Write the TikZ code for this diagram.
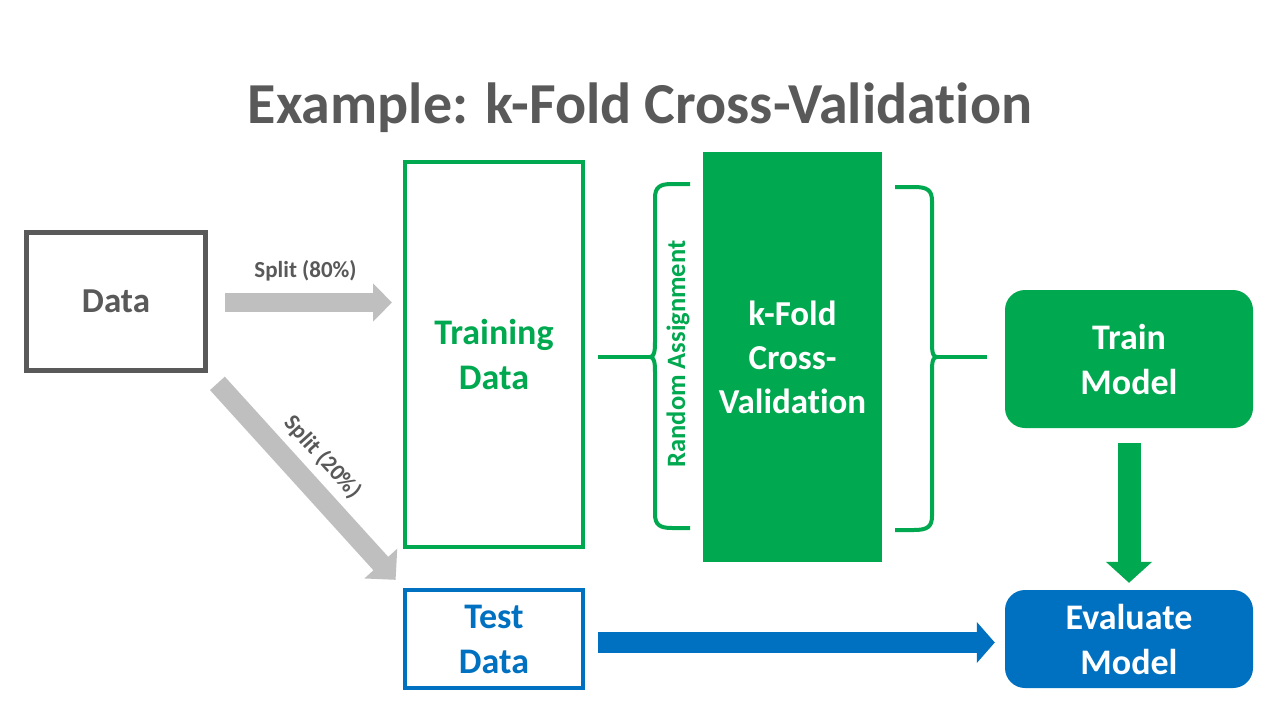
\documentclass[tikz,border=0pt]{standalone}
\usepackage{fontspec}
\setmainfont{Carlito}[Ligatures=NoCommon]
\usetikzlibrary{arrows.meta,calc}
\definecolor{tgray}{HTML}{595959}
\definecolor{agray}{HTML}{BFBFBF}
\definecolor{ggreen}{HTML}{00A84F}
\definecolor{bblue}{HTML}{0070C0}
\begin{document}
\begin{tikzpicture}[x=1pt,y=-1pt,
  box/.style={inner sep=0pt, align=center, font=\bfseries\fontsize{36}{45}\selectfont},
  lbl/.style={inner sep=0pt, text=tgray, font=\bfseries\fontsize{23}{27}\selectfont},
  gline/.style={ggreen, line width=4pt},
  brace/.style={ggreen, line width=4pt, line join=round}
]
\useasboundingbox[fill=white] (0,0) rectangle (1280,720);

\node[anchor=base, text=tgray, font=\bfseries\fontsize{58}{68}\selectfont] (title) at (640,123) {Example: k-Fold Cross-Validation};

\node[box, draw=tgray, line width=5pt, text=tgray, minimum width=179pt, minimum height=138pt, font=\bfseries\fontsize{35}{44}\selectfont] (data) at (116,301.5) {Data};
\node[box, draw=ggreen, line width=4pt, text=ggreen, minimum width=178pt, minimum height=385pt] (train) at (494,354.5) {Training\\Data};
\node[box, draw=bblue, line width=4pt, text=bblue, minimum width=178pt, minimum height=98pt] (test) at (494,639) {Test\\Data};
\node[box, fill=ggreen, text=white, minimum width=179pt, minimum height=410pt, font=\bfseries\fontsize{35}{44}\selectfont] (kfold) at (792.5,357) {k-Fold\\Cross-\\Validation};
\node[box, fill=ggreen, text=white, rounded corners=20pt, minimum width=248pt, minimum height=138pt] (trainm) at (1129,359) {Train\\Model};
\node[box, fill=bblue, text=white, rounded corners=20pt, minimum width=248pt, minimum height=98pt] (evalm) at (1129,639) {Evaluate\\Model};

\node[rotate=90, inner sep=0pt, text=ggreen, font=\bfseries\fontsize{26.5}{30}\selectfont] (ra) at (678,354) {Random Assignment};

% gray arrows
\draw[agray, line width=19pt, -{Triangle[length=19pt,width=37pt]}, shorten <=17pt, shorten >=11pt]
  ($(data.east)+(0,1)$) -- ($(train.west |- data.east)+(0,1)$)
  node[lbl, midway, above=12pt] {Split (80\%)};
\draw[agray, line width=20pt, -{Triangle[length=22pt,width=43pt]}, shorten <=14pt, shorten >=11pt]
  (data.south east) -- (test.north west)
  node[lbl, pos=0.48, sloped, above=8pt] {Split (20\%)};

% blue arrow
\draw[bblue, line width=21pt, -{Triangle[length=18pt,width=40pt]}, shorten <=13pt, shorten >=10pt]
  ($(test.east)+(0,3.5)$) -- ($(evalm.west)+(0,3.5)$);

% green down arrow
\draw[ggreen, line width=23pt, -{Triangle[length=21pt,width=45pt]}, shorten <=15pt, shorten >=7pt]
  (trainm.south) -- (evalm.north);

% left brace
\coordinate (lbt) at (650,357);
\draw[gline, shorten <=13pt] (train.east |- lbt) -- (lbt);
\draw[brace] (690,184) -- (672,184) .. controls (660,184) and (655,187) .. (655,198) -- (655,342)
  .. controls (655,352) and (654,357) .. (650,357) .. controls (654,357) and (655,362) .. (655,372)
  -- (655,514) .. controls (655,525) and (660,528) .. (672,528) -- (690,528);

% right brace
\coordinate (rbt) at (937,357);
\draw[brace] (895,187) -- (914,187) .. controls (927,187) and (932,190) .. (932,201) -- (932,343)
  .. controls (932,353) and (933,357) .. (937,357) .. controls (933,357) and (932,361) .. (932,371)
  -- (932,516) .. controls (932,527) and (927,530) .. (914,530) -- (895,530);
\draw[gline, shorten >=18pt] (rbt) -- (trainm.west |- rbt);
\end{tikzpicture}
\end{document}
